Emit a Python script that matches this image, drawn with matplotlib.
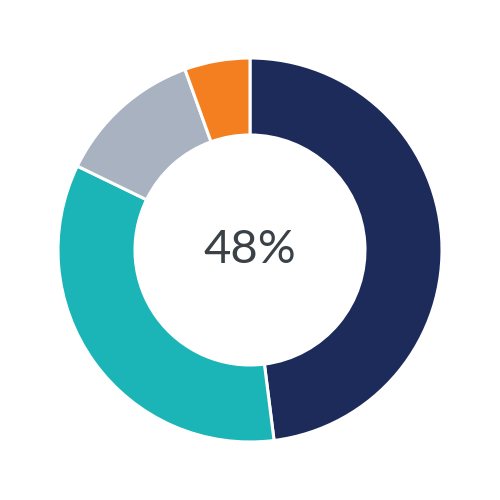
import matplotlib
matplotlib.use("Agg")
import matplotlib.pyplot as plt

labels = ["Navy", "Teal", "Gray", "Orange"]
values = [48, 34.2, 12.3, 5.5]
colors = ["#1c2b5a", "#1bb5b8", "#a8b2c0", "#f47f20"]
center_text = "48%"

fig = plt.figure(figsize=(5, 5), dpi=100)
ax = fig.add_axes([0, 0, 1, 1])
R = 1.0
lim = 250 / 192
ax.pie(values, colors=colors, startangle=90, counterclock=False, radius=R,
       wedgeprops=dict(width=77 / 192, edgecolor="white", linewidth=2.2))
ax.text(0, (250 - 246) / 192, center_text, ha="center", va="center_baseline",
        fontsize=34, color="#3a4147", family="Lato", fontweight="normal")
ax.set_xlim(-lim, lim)
ax.set_ylim(-lim, lim)
ax.set_aspect("equal")
ax.axis("off")
fig.savefig("out.png", dpi=100, facecolor="white")
